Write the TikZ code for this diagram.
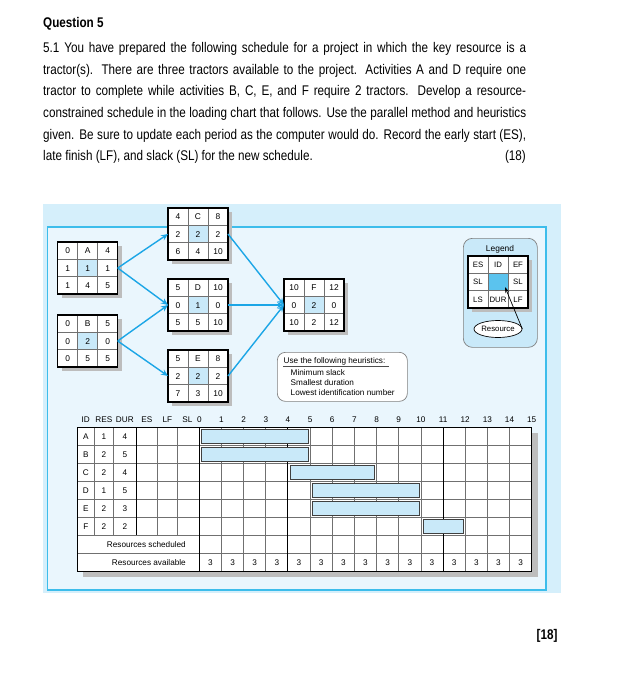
\documentclass[tikz,border=0pt]{standalone}
\usepackage{fontspec}
\setmainfont{Liberation Sans}
\newfontfamily\narrowfont{Liberation Sans}[FakeStretch=0.835]
\newfontfamily\dv{Liberation Sans}
\usetikzlibrary{arrows.meta,shapes.geometric}
\definecolor{bgout}{HTML}{D5EFFB}
\definecolor{bgin}{HTML}{EAF6FD}
\definecolor{panelline}{HTML}{3DBDEB}
\definecolor{arrowblue}{HTML}{1CA6E6}
\definecolor{cellblue}{HTML}{C9E9F9}
\definecolor{legblue}{HTML}{5BC3EE}
\definecolor{shadowgray}{HTML}{BDBDBD}
\definecolor{gridgray}{HTML}{707070}
\definecolor{bardraw}{HTML}{404040}

\newcommand\NetBox[7]{%
  \fill[shadowgray] (#2+4,#3+4) rectangle ++(60,52);
  \fill[white] (#2,#3) rectangle ++(60,52);
  \fill[#7] (#2+20,#3+52/3) rectangle ++(20,52/3);
  \draw[gridgray, line width=0.6pt] (#2+20,#3) -- ++(0,52) (#2+40,#3) -- ++(0,52)
     (#2,#3+52/3) -- ++(60,0) (#2,#3+104/3) -- ++(60,0);
  \node[draw, line width=1.1pt, minimum width=60pt, minimum height=52pt,
        inner sep=0pt, outer sep=0pt, anchor=north west] (#1) at (#2,#3) {};
  \foreach \v [count=\i] in {#4} {\node[cellfont] (#1-t\i) at (#2+20*\i-10,#3+26/3) {\v};}
  \foreach \v [count=\i] in {#5} {\node[cellfont] (#1-m\i) at (#2+20*\i-10,#3+26) {\v};}
  \foreach \v [count=\i] in {#6} {\node[cellfont] (#1-b\i) at (#2+20*\i-10,#3+130/3) {\v};}
}

\begin{document}
\begin{tikzpicture}[x=1pt,y=-1pt,
  bodyfont/.style={font=\narrowfont\fontsize{14}{16}\selectfont},
  cellfont/.style={font=\dv\fontsize{8.4}{9}\selectfont, inner sep=0pt, text height=6pt, text depth=0pt},
  gfont/.style={font=\dv\fontsize{8.2}{9}\selectfont, inner sep=0pt, text height=5.9pt, text depth=0pt},
  hfont/.style={font=\dv\fontsize{8.2}{9}\selectfont, inner sep=0pt, text height=5.9pt, text depth=1.5pt},
  conn/.style={arrowblue, line width=1.4pt, -{Stealth[length=7pt,width=6pt]}},
  ganttbar/.style={fill=cellblue, draw=bardraw, line width=0.8pt},
  gline/.style={gridgray, line width=0.6pt},
  thickline/.style={black, line width=1pt}]
\useasboundingbox (0,0) rectangle (625,694);
\fill[white] (0,0) rectangle (625,694);

% ---- question text ----
\node[anchor=base west, inner sep=0pt, font=\narrowfont\bfseries\fontsize{14}{16}\selectfont] (q) at (43,27) {Question 5};
\node[anchor=base west, inner sep=0pt, bodyfont] (l1) at (43,52.5) {\makebox[483pt][s]{5.1 You have prepared the following schedule for a project in which the key resource is a}};
\node[anchor=base west, inner sep=0pt, bodyfont] (l2) at (43,74.15) {\makebox[483pt][s]{tractor(s). There are three tractors available to the project. Activities A and D require one}};
\node[anchor=base west, inner sep=0pt, bodyfont] (l3) at (43,95.8) {\makebox[483pt][s]{tractor to complete while activities B, C, E, and F require 2 tractors. Develop a resource-}};
\node[anchor=base west, inner sep=0pt, bodyfont] (l4) at (43,117.45) {\makebox[483pt][s]{constrained schedule in the loading chart that follows. Use the parallel method and heuristics}};
\node[anchor=base west, inner sep=0pt, bodyfont] (l5) at (43,139.1) {\makebox[483pt][s]{given. Be sure to update each period as the computer would do. Record the early start (ES),}};
\node[anchor=base west, inner sep=0pt, bodyfont] (l6) at (43,160.75) {late finish (LF), and slack (SL) for the new schedule.};
\node[anchor=base east, inner sep=0pt, bodyfont] (l6b) at (526,160.75) {(18)};
\node[anchor=base, inner sep=0pt, font=\narrowfont\bfseries\fontsize{14}{16}\selectfont] (mk) at (547,639) {[18]};

% ---- figure background ----
\fill[bgout] (43,204) rectangle (561,593);
\draw[panelline, line width=1.8pt, fill=bgin] (47.5,227) rectangle (546,590);

% ---- network ----
\NetBox{A}{57.7}{242}{0,A,4}{1,1,1}{1,4,5}{cellblue}
\NetBox{B}{57.7}{315}{0,B,5}{0,2,0}{0,5,5}{cellblue}
\NetBox{C}{168}{208}{4,C,8}{2,2,2}{6,4,10}{cellblue}
\NetBox{D}{168}{279}{5,D,10}{0,1,0}{5,5,10}{cellblue}
\NetBox{E}{168}{350}{5,E,8}{2,2,2}{7,3,10}{cellblue}
\NetBox{F}{284}{279}{10,F,12}{0,2,0}{10,2,12}{cellblue}

\draw[conn] (A.east) -- (C.west);
\draw[conn] (A.east) -- (D.west);
\draw[conn] (B.east) -- (D.west);
\draw[conn] (B.east) -- (E.west);
\draw[conn] (C.east) -- (F.west);
\draw[conn, line width=2.2pt] (D.east) -- (F.west);
\draw[conn] (E.east) -- (F.west);

% ---- legend ----
\node[draw=gray, fill=cellblue, rounded corners=9pt, line width=0.7pt,
      minimum width=74pt, minimum height=109pt, inner sep=0pt, anchor=north west] (legend) at (463,238) {};
\node[cellfont] (legtitle) at (500,248) {Legend};
\begin{scope}[cellfont/.style={font=\dv\fontsize{7.8}{8}\selectfont, inner sep=0pt, text height=5.6pt, text depth=0pt}]
\NetBox{L}{468}{256}{ES,ID,EF}{SL,,SL}{LS,DUR,LF}{legblue}
\end{scope}
\node[ellipse, draw, fill=white, line width=0.7pt, minimum width=48pt, minimum height=17pt,
      inner sep=0pt, font=\dv\fontsize{7.8}{8}\selectfont] (res) at (498,329) {Resource};
\coordinate (legtip) at (505,287);
\draw[-{Stealth[length=6pt,width=4pt]}, line width=0.7pt] (res.east) -- (legtip);

% ---- heuristics ----
\node[draw=gray, fill=white, rounded corners=8pt, line width=0.7pt,
      minimum width=130pt, minimum height=49pt, inner sep=0pt, anchor=north west] (heur) at (277,352) {};
\node[hfont, anchor=west] (h0) at (283.5,361) {Use the following heuristics:};
\draw[gray!60!black, line width=0.6pt] (283,366) -- (389,366);
\node[hfont, anchor=west] (h1) at (290.5,373) {Minimum slack};
\node[hfont, anchor=west] (h2) at (290.5,383) {Smallest duration};
\node[hfont, anchor=west] (h3) at (290.5,393) {Lowest identification number};

% ---- loading chart ----
\fill[shadowgray] (83,433.3) rectangle (537.7,577.3);
\fill[white] (77.3,427.3) rectangle (531.7,571.3);
\foreach \r in {1,...,7} {\draw[gline] (77.3,427.3+18*\r) -- (531.7,427.3+18*\r);}
\foreach \xx in {94.3,113.3,157.3,177.3} {\draw[gline] (\xx,427.3) -- (\xx,535.3);}
\draw[thickline] (136.3,427.3) -- (136.3,535.3);
\foreach \k in {1,2,3,5,6,7,8,9,10,12,13,14} {\draw[gline] (199.3+22.16*\k,427.3) -- ++(0,144);}
\foreach \k in {4,11} {\draw[thickline] (199.3+22.16*\k,427.3) -- ++(0,144);}
\draw[thickline] (199.3,427.3) -- (199.3,571.3);
\draw[black, line width=1.2pt] (77.3,427.3) rectangle (531.7,571.3);

% header
\node[gfont] (hID) at (85.8,420) {ID};
\node[gfont] (hRES) at (103.8,420) {RES};
\node[gfont] (hDUR) at (124.8,420) {DUR};
\node[gfont] (hES) at (146.8,420) {ES};
\node[gfont] (hLF) at (167.3,420) {LF};
\node[gfont] (hSL) at (187.5,420) {SL};
\foreach \k in {0,...,15} {\node[gfont] (t\k) at (199.3+22.16*\k,420) {\k};}

% rows
\foreach \id/\rs/\du [count=\i] in {A/1/4,B/2/5,C/2/4,D/1/5,E/2/3,F/2/2} {
  \node[gfont] (r\id) at (85.8,427.3+18*\i-9) {\id};
  \node[gfont] (r\id-res) at (103.8,427.3+18*\i-9) {\rs};
  \node[gfont] (r\id-dur) at (124.8,427.3+18*\i-9) {\du};
}
\node[gfont, anchor=east] (rsched) at (186,544.3) {Resources scheduled};
\node[gfont, anchor=east] (ravail) at (186,562.3) {Resources available};
\foreach \k in {1,...,15} {\node[gfont] (av\k) at (199.3+22.16*\k-11.08,562.3) {3};}

% bars
\draw[ganttbar] (199.3+2,429.3) rectangle (199.3+22.16*5-2,443.3);
\draw[ganttbar] (199.3+2,447.3) rectangle (199.3+22.16*5-2,461.3);
\draw[ganttbar] (199.3+22.16*4+2,465.3) rectangle (199.3+22.16*8-2,479.3);
\draw[ganttbar] (199.3+22.16*5+2,483.3) rectangle (199.3+22.16*10-2,497.3);
\draw[ganttbar] (199.3+22.16*5+2,501.3) rectangle (199.3+22.16*10-2,515.3);
\draw[ganttbar] (199.3+22.16*10+2,519.3) rectangle (199.3+22.16*12-2,533.3);
\end{tikzpicture}
\end{document}
